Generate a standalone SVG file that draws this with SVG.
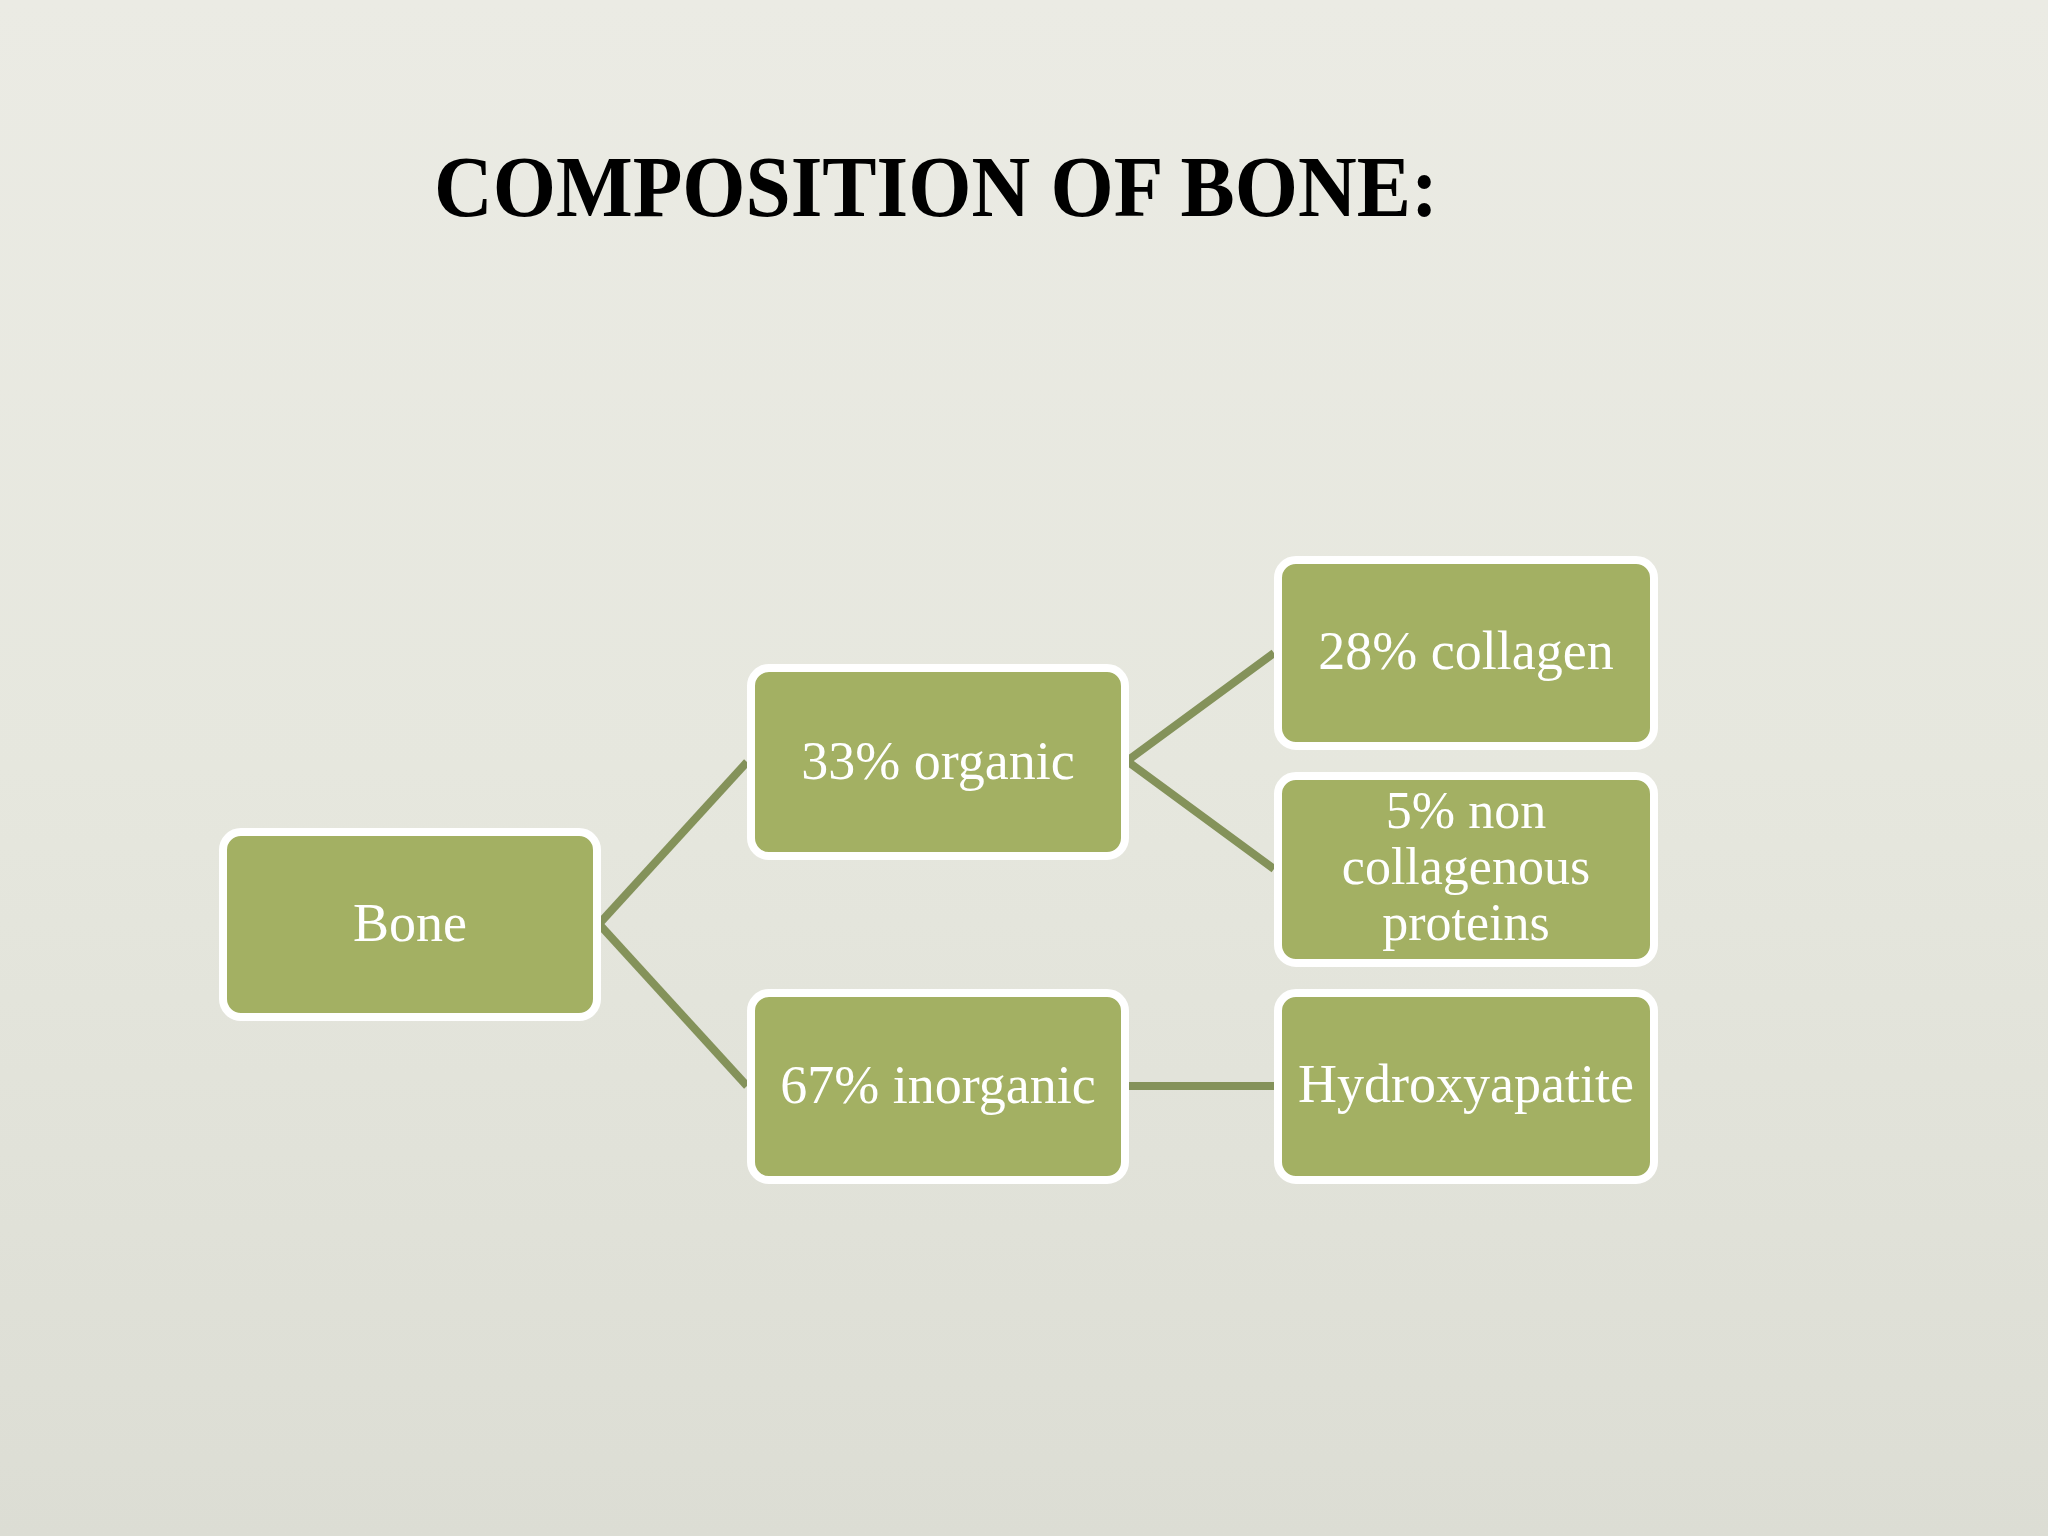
<svg xmlns="http://www.w3.org/2000/svg" width="2048" height="1536" viewBox="0 0 2048 1536">
<defs>
<linearGradient id="bg" x1="0" y1="0" x2="0" y2="1">
<stop offset="0" stop-color="#ebebe4"/>
<stop offset="0.5" stop-color="#e6e7de"/>
<stop offset="1" stop-color="#dcddd4"/>
</linearGradient>
<style>
.box{fill:#a3b063;stroke:#ffffff;stroke-width:8}
.lbl{font-family:"Liberation Serif","Times New Roman",serif;font-size:54px;fill:#ffffff;text-anchor:middle}
.lbl2{font-size:52px}
.con{stroke:#84925a;stroke-width:8;fill:none}
.title{font-family:"Liberation Serif","Times New Roman",serif;font-weight:bold;font-size:86px;fill:#000000}
</style>
</defs>
<rect x="0" y="0" width="2048" height="1536" fill="url(#bg)"/>
<text class="title" x="434" y="216" textLength="1004" lengthAdjust="spacingAndGlyphs">COMPOSITION OF BONE:</text>
<g id="connectors">
<line class="con" x1="599" y1="924" x2="747" y2="762"/>
<line class="con" x1="599" y1="924" x2="747" y2="1086"/>
<polyline class="con" points="1274,653 1127,761 1274,869"/>
<line class="con" x1="1129" y1="1086" x2="1274" y2="1086"/>
</g>
<g id="bone">
<rect class="box" x="223" y="832" width="374" height="185" rx="18"/>
<text class="lbl" x="410" y="941">Bone</text>
</g>
<g id="organic">
<rect class="box" x="751" y="668" width="374" height="188" rx="18"/>
<text class="lbl" x="938" y="779">33% organic</text>
</g>
<g id="inorganic">
<rect class="box" x="751" y="993" width="374" height="187" rx="18"/>
<text class="lbl" x="938" y="1103">67% inorganic</text>
</g>
<g id="collagen">
<rect class="box" x="1278" y="560" width="376" height="186" rx="18"/>
<text class="lbl" x="1466" y="669">28% collagen</text>
</g>
<g id="noncollagen">
<rect class="box" x="1278" y="776" width="376" height="187" rx="18"/>
<text class="lbl lbl2" x="1466" y="828">5% non</text>
<text class="lbl lbl2" x="1466" y="884">collagenous</text>
<text class="lbl lbl2" x="1466" y="940">proteins</text>
</g>
<g id="hydroxyapatite">
<rect class="box" x="1278" y="993" width="376" height="187" rx="18"/>
<text class="lbl" x="1466" y="1102">Hydroxyapatite</text>
</g>
</svg>
